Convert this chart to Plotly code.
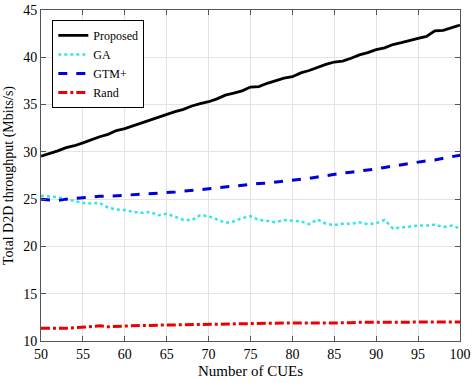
import plotly.graph_objects as go

cues = list(range(50, 101))

proposed = [29.55, 29.8, 30.1, 30.45, 30.65, 30.95, 31.3, 31.6, 31.85, 32.25,
            32.45, 32.75, 33.1, 33.35, 33.7, 33.95, 34.25, 34.5, 34.85, 35.1,
            35.3, 35.6, 36.0, 36.2, 36.45, 36.85, 36.9, 37.25, 37.55, 37.8,
            37.95, 38.35, 38.6, 38.95, 39.25, 39.5, 39.6, 39.9, 40.25, 40.5,
            40.8, 41.0, 41.35, 41.55, 41.8, 42.0, 42.2, 42.8, 42.85, 43.1, 43.4]

ga = [25.35, 25.3, 25.2, 25.0, 24.8, 24.6, 24.55, 24.6, 24.1, 23.9,
      23.85, 23.65, 23.55, 23.65, 23.3, 23.45, 23.15, 22.8, 22.8, 23.3,
      23.2, 22.85, 22.5, 22.65, 23.0, 23.2, 22.8, 22.7, 22.55, 22.8,
      22.75, 22.65, 22.35, 22.85, 22.4, 22.25, 22.4, 22.4, 22.55, 22.35,
      22.45, 22.8, 21.9, 22.0, 22.1, 22.2, 22.2, 22.3, 22.05, 22.2, 21.9]

gtm = [25.0, 24.95, 24.85, 25.0, 25.1, 25.15, 25.2, 25.3, 25.3, 25.35,
       25.45, 25.5, 25.55, 25.6, 25.65, 25.7, 25.75, 25.85, 25.9, 26.0,
       26.1, 26.2, 26.3, 26.4, 26.5, 26.6, 26.65, 26.7, 26.8, 26.85,
       26.95, 27.05, 27.2, 27.35, 27.5, 27.65, 27.75, 27.85, 27.95, 28.1,
       28.2, 28.35, 28.5, 28.6, 28.75, 28.9, 29.05, 29.15, 29.3, 29.45, 29.65]

rand = [11.35, 11.35, 11.3, 11.35, 11.4, 11.45, 11.5, 11.6, 11.5, 11.55,
        11.6, 11.6, 11.65, 11.65, 11.7, 11.7, 11.7, 11.72, 11.72, 11.75,
        11.75, 11.78, 11.8, 11.82, 11.85, 11.83, 11.85, 11.85, 11.88, 11.9,
        11.9, 11.9, 11.92, 11.9, 11.88, 11.95, 11.93, 11.92, 11.97, 12.0,
        12.0, 11.98, 11.98, 12.0, 11.98, 11.97, 12.03, 12.05, 12.02, 12.0, 12.0]

x_ticks = [50, 55, 60, 65, 70, 75, 80, 85, 90, 95, 100]
y_ticks = [10, 15, 20, 25, 30, 35, 40, 45]

font_family = "Liberation Serif"

fig = go.Figure()
fig.add_trace(go.Scatter(x=cues, y=proposed, name="Proposed", mode="lines",
                         line=dict(color="black", width=2.8)))
fig.add_trace(go.Scatter(x=cues, y=ga, name="GA", mode="lines",
                         line=dict(color="#33e6e6", width=2.5, dash="dot")))
fig.add_trace(go.Scatter(x=cues, y=gtm, name="GTM+", mode="lines",
                         line=dict(color="#0000dd", width=3, dash="dash")))
fig.add_trace(go.Scatter(x=cues, y=rand, name="Rand", mode="lines",
                         line=dict(color="#ee0000", width=3, dash="dashdot")))

axis_common = dict(
    showline=True, linecolor="#555555", linewidth=1, mirror="allticks",
    ticks="inside", ticklen=5, tickcolor="#555555",
    showgrid=True, gridcolor="#e3e3e3", gridwidth=1, zeroline=False,
    automargin=False,
    tickfont=dict(family=font_family, size=14, color="black"),
)

fig.update_layout(
    width=474, height=383,
    margin=dict(l=41, r=14, t=10, b=42),
    paper_bgcolor="white", plot_bgcolor="white",
    font=dict(family=font_family, color="black"),
    xaxis=dict(range=[50, 100], tickvals=x_ticks,
               title=dict(text="Number of CUEs", font=dict(family=font_family, size=15), standoff=4),
               **axis_common),
    yaxis=dict(range=[10, 45], tickvals=y_ticks,
               title=dict(text="Total D2D throughput (Mbits/s)", font=dict(family=font_family, size=14), standoff=6),
               **axis_common),
    legend=dict(x=0.027, y=0.97, xanchor="left", yanchor="top",
                bgcolor="white", bordercolor="black", borderwidth=1,
                font=dict(family=font_family, size=12),
                tracegroupgap=0, itemwidth=30),
    showlegend=True,
)

fig.write_html("out.html",
               config={"displayModeBar": False},
               post_script="document.body.style.margin='0';document.body.style.overflow='hidden';")
